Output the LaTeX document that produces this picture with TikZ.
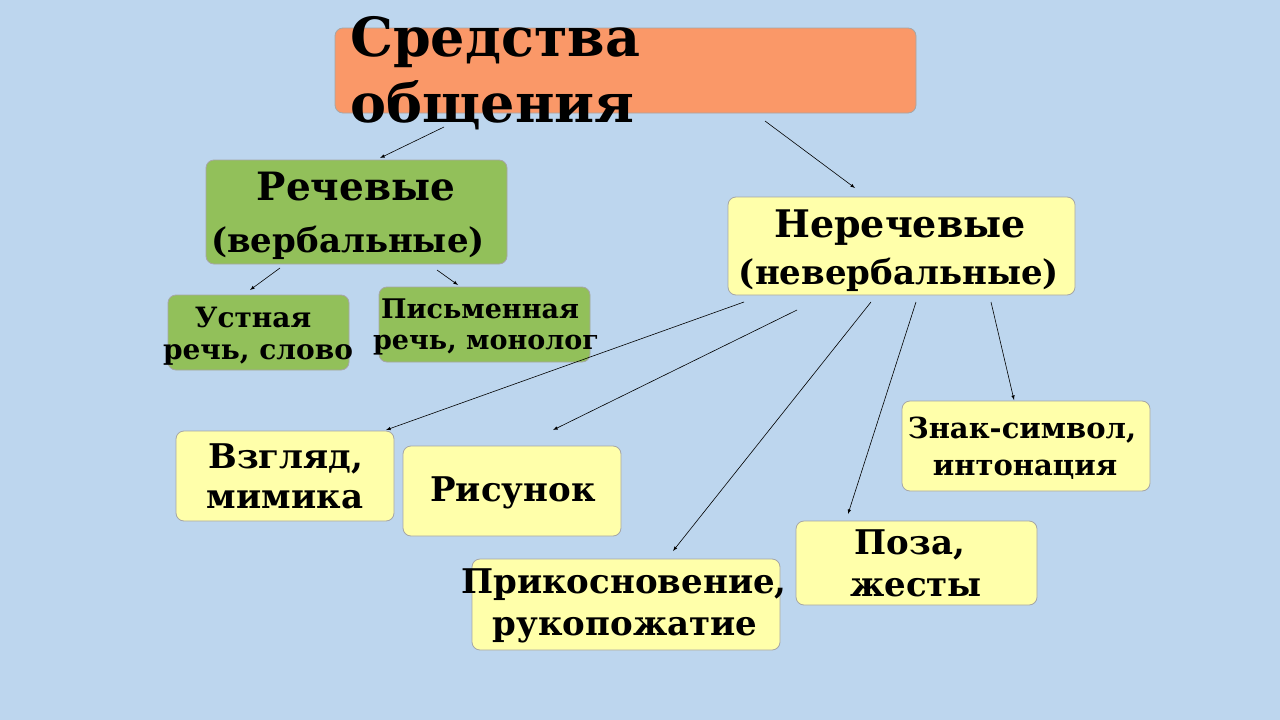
\documentclass[tikz,border=0pt]{standalone}
\usepackage{fontspec}
\setmainfont{DejaVu Serif}
\begin{document}
\begin{tikzpicture}[x=1pt,y=-1pt]
\definecolor{bg}{RGB}{189,214,238}
\definecolor{org}{RGB}{250,152,104}
\definecolor{grn}{RGB}{146,192,90}
\definecolor{yel}{RGB}{255,255,170}
\tikzset{
 box/.style={draw=gray!70,rounded corners=8pt,line width=0.8pt},
 txt/.style={font=\bfseries,inner sep=0pt,anchor=center},
 arr/.style={-latex,line width=0.6pt}
}
\fill[bg] (0,0) rectangle (1280,720);
\draw[box,fill=org] (335,28) rectangle (916,113);
\node[font=\fontsize{54}{54}\bfseries\selectfont,anchor=west,inner sep=0pt] (t1) at (350,42) {Средства};
\node[font=\fontsize{54}{54}\bfseries\selectfont,anchor=west,inner sep=0pt] (t2) at (350,105) {общения};
\draw[box,fill=grn] (206,160) rectangle (507,264);
\node[txt,font=\fontsize{39}{39}\bfseries\selectfont] (r1) at (356,187) {Речевые};
\node[txt,font=\fontsize{34}{34}\bfseries\selectfont] (r2) at (348,243) {(вербальные)};
\draw[box,fill=yel] (728,197) rectangle (1075,295);
\node[txt,font=\fontsize{38}{38}\bfseries\selectfont] (n1) at (900,228) {Неречевые};
\node[txt,font=\fontsize{34}{34}\bfseries\selectfont] (n2) at (899,275) {(невербальные)};
\draw[box,fill=grn] (168,295) rectangle (349,370);
\node[txt,font=\fontsize{28}{28}\bfseries\selectfont] at (253,317) {Устная};
\node[txt,font=\fontsize{28}{28}\bfseries\selectfont] at (258,355) {речь, слово};
\draw[box,fill=grn] (379,287) rectangle (590,362);
\node[txt,font=\fontsize{27}{27}\bfseries\selectfont] at (480,309) {Письменная};
\node[txt,font=\fontsize{27}{27}\bfseries\selectfont] at (486,345) {речь, монолог};
\draw[box,fill=yel] (176,431) rectangle (394,521);
\node[txt,font=\fontsize{34}{34}\bfseries\selectfont] at (286,459) {Взгляд,};
\node[txt,font=\fontsize{34}{34}\bfseries\selectfont] at (285,500) {мимика};
\draw[box,fill=yel] (403,446) rectangle (621,536);
\node[txt,font=\fontsize{34}{34}\bfseries\selectfont] at (513,493) {Рисунок};
\draw[box,fill=yel] (472,559) rectangle (780,650);
\node[txt,font=\fontsize{34}{34}\bfseries\selectfont] at (624,585) {Прикосновение,};
\node[txt,font=\fontsize{34}{34}\bfseries\selectfont] at (625,630) {рукопожатие};
\draw[box,fill=yel] (796,521) rectangle (1037,605);
\node[txt,font=\fontsize{34}{34}\bfseries\selectfont] at (910,545) {Поза,};
\node[txt,font=\fontsize{34}{34}\bfseries\selectfont] at (916,588) {жесты};
\draw[box,fill=yel] (902,401) rectangle (1150,491);
\node[txt,font=\fontsize{29}{29}\bfseries\selectfont] at (1022,430) {Знак-символ,};
\node[txt,font=\fontsize{29}{29}\bfseries\selectfont] at (1025,470) {интонация};
\coordinate (a1) at (444,127); \coordinate (b1) at (380,158);
\coordinate (a2) at (765,121); \coordinate (b2) at (855,188);
\coordinate (a3) at (280,268); \coordinate (b3) at (250,290);
\coordinate (a4) at (437,270); \coordinate (b4) at (458,285);
\coordinate (c0) at (744,302); \coordinate (d0) at (386,430);
\coordinate (c1) at (797,310); \coordinate (d1) at (553,430);
\coordinate (c2) at (871,302); \coordinate (d2) at (673,551);
\coordinate (c3) at (916,302); \coordinate (d3) at (848,514);
\coordinate (c4) at (991,302); \coordinate (d4) at (1014,400);
\foreach \s/\e in {a1/b1,a2/b2,a3/b3,a4/b4,c0/d0,c1/d1,c2/d2,c3/d3,c4/d4}
  \draw[arr] (\s) -- (\e);
\end{tikzpicture}
\end{document}
